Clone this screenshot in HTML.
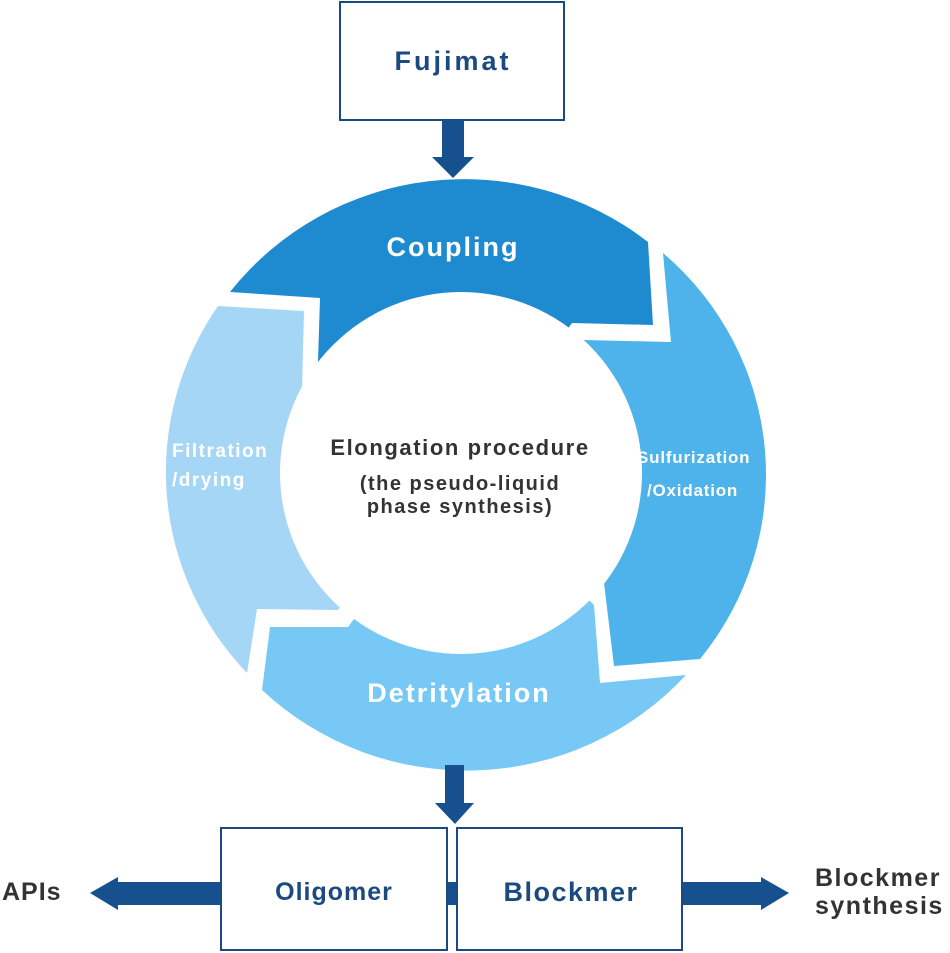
<!DOCTYPE html>
<html><head><meta charset="utf-8"><style>
html,body{margin:0;padding:0;background:#fff;}
svg{display:block;}
text{font-family:"Liberation Sans","DejaVu Sans",sans-serif;font-weight:bold;}
</style></head><body>
<svg width="950" height="953" viewBox="0 0 950 953" xmlns="http://www.w3.org/2000/svg">
<!-- top box -->
<rect x="340" y="2" width="224" height="118" fill="#fff" stroke="#1a4a80" stroke-width="2"/>
<text x="453" y="70" text-anchor="middle" font-size="27" fill="#1a4a80" letter-spacing="3">Fujimat</text>
<polygon points="442,120 464,120 464,157 474,157 453,178 432,157 442,157" fill="#16508e"/>

<!-- ring segments -->
<path d="M230,292 A297,293 0 0 1 648,242 L653,325 L572,323 L463,473 L318,362 L320,298 Z" fill="#1e8bd0"/>
<path d="M663,253 A297,293 0 0 1 700,659 L614,666 L604,583 L463,473 L583,340 L671,342 Z" fill="#4db3ea"/>
<path d="M686,675 A297,293 0 0 1 262,690 L270,627 L348,627 L463,473 L594,605 L600,683 Z" fill="#78c8f5"/>
<path d="M247,673 A297,293 0 0 1 218,306 L304,311 L302,390 L463,473 L338,610 L257,609 Z" fill="#a6d6f6"/>
<circle cx="461" cy="473" r="181" fill="#fff"/>

<text x="453" y="256" text-anchor="middle" font-size="27" fill="#fff" letter-spacing="2">Coupling</text>
<text x="459" y="702" text-anchor="middle" font-size="27" fill="#fff" letter-spacing="2">Detritylation</text>
<text x="172" y="457" font-size="19" fill="#fff" letter-spacing="1.5">Filtration</text>
<text x="172" y="486" font-size="19" fill="#fff" letter-spacing="1.5">/drying</text>
<text x="637" y="463" font-size="17" fill="#fff" letter-spacing="0.8">Sulfurization</text>
<text x="647" y="496" font-size="17" fill="#fff" letter-spacing="0.8">/Oxidation</text>
<text x="460" y="455" text-anchor="middle" font-size="22" fill="#333" letter-spacing="1.6">Elongation procedure</text>
<text x="460" y="490" text-anchor="middle" font-size="20" fill="#333" letter-spacing="1.5">(the pseudo-liquid</text>
<text x="460" y="513" text-anchor="middle" font-size="20" fill="#333" letter-spacing="1.5">phase synthesis)</text>

<!-- bottom arrow -->
<polygon points="445,765 464,765 464,803 474,803 455,824 435,803 445,803" fill="#16508e"/>

<!-- bottom boxes -->
<rect x="221" y="828" width="226" height="122" fill="#fff" stroke="#1a4a80" stroke-width="2"/>
<rect x="457" y="828" width="225" height="122" fill="#fff" stroke="#1a4a80" stroke-width="2"/>
<rect x="448" y="882" width="8" height="23" fill="#16508e"/>
<text x="334" y="900" text-anchor="middle" font-size="25" fill="#1a4a80" letter-spacing="1">Oligomer</text>
<text x="571" y="901" text-anchor="middle" font-size="27" fill="#1a4a80" letter-spacing="1.5">Blockmer</text>

<polygon points="220,882 118,882 118,877 90,893 118,910 118,905 220,905" fill="#16508e"/>
<polygon points="683,882 761,882 761,877 789,893 761,910 761,905 683,905" fill="#16508e"/>
<text x="2" y="900" font-size="25" fill="#333" letter-spacing="1">APIs</text>
<text x="815" y="886" font-size="25" fill="#333" letter-spacing="1.5">Blockmer</text>
<text x="815" y="914" font-size="25" fill="#333" letter-spacing="1.5">synthesis</text>
</svg>
</body></html>
